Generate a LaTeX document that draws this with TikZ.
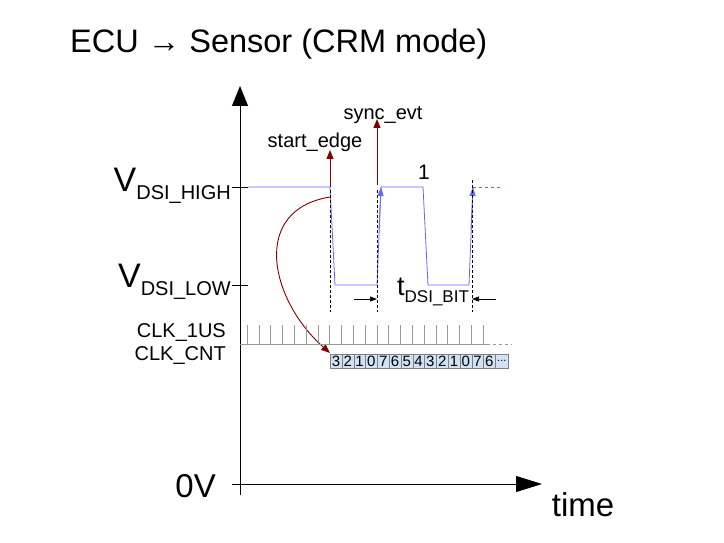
\documentclass[tikz,border=0pt]{standalone}
\usepackage{fontspec}
\setmainfont{Liberation Sans}
\usetikzlibrary{arrows.meta}
\definecolor{cellc}{HTML}{CFE3F5}
\begin{document}
\begin{tikzpicture}[x=1pt,y=-1pt,
  sig/.style={color=blue!60,line width=0.8pt},
  vdash/.style={densely dashed,line width=0.7pt},
  redarr/.style={color=red!50!black,line width=0.9pt,-{Triangle[length=9pt,width=7pt]}},
  lbl/.style={font=\fontsize{20}{20}\selectfont,inner sep=0pt},
  cell/.style={draw=black!50,fill=cellc,minimum width=11.8pt,minimum height=14pt,inner sep=0pt,font=\fontsize{15}{15}\selectfont}]
\useasboundingbox (0,0) rectangle (724,543);
\node[anchor=west,inner sep=0pt,font=\fontsize{32.5}{32}\selectfont] (title) at (70,44) {ECU → Sensor (CRM mode)};
% axes
\coordinate (o) at (240,484);
\coordinate (ytop) at (240,86);
\coordinate (xend) at (542,484);
\draw[line width=1pt,-{Triangle[length=20pt,width=16pt]}] (240,495) -- (ytop);
\draw[line width=1pt,-{Triangle[length=26pt,width=16pt]}] (232,484) -- (xend);
\draw[line width=0.8pt] (232,187) -- (248,187) (232,285) -- (248,285);
\node[lbl,font=\fontsize{33}{33}\selectfont,anchor=east] (zero) at (216,486) {0V};
\node[lbl,font=\fontsize{33}{33}\selectfont,anchor=north] (time) at (583,492) {time};
\node[anchor=east,inner sep=0pt] (vh) at (231,186) {\fontsize{34}{34}\selectfont V\raisebox{-8pt}{\fontsize{20}{20}\selectfont DSI\_HIGH}};
\node[anchor=east,inner sep=0pt] (vl) at (231,282) {\fontsize{34}{34}\selectfont V\raisebox{-8pt}{\fontsize{20}{20}\selectfont DSI\_LOW}};
\node[lbl,anchor=east] (c1) at (226,333) {CLK\_1US};
\node[lbl,anchor=east] (c2) at (226,356) {CLK\_CNT};
% signal
\draw[sig] (248,187) -- (330,187) -- (335,285) -- (377,285) -- (381,187) -- (423,187) -- (428,285) -- (469,285) -- (473,187);
\draw[sig,dashed] (473,187) -- (502,187);
\draw[color=blue!60,line width=0.8pt,-{Triangle[length=9pt,width=6pt]}] (379,230) -- (381,187);
\draw[color=blue!60,line width=0.8pt,-{Triangle[length=9pt,width=6pt]}] (471,230) -- (473,187);
\node[lbl,font=\fontsize{21}{21}\selectfont] (one) at (424,172) {1};
% dashed verticals
\draw[vdash] (330,190) -- (330,312);
\draw[vdash] (377,190) -- (377,312);
\draw[vdash] (472,180) -- (472,312);
\coordinate (a1) at (354,299); \coordinate (a2) at (377,299);
\coordinate (b1) at (496,299); \coordinate (b2) at (472,299);
\draw[line width=0.7pt,-{Triangle[length=7pt,width=5pt]}] (a1) -- (a2);
\draw[line width=0.7pt,-{Triangle[length=7pt,width=5pt]}] (b1) -- (b2);
\node[anchor=west,inner sep=0pt] (tb) at (397,292) {\fontsize{27}{27}\selectfont t\raisebox{-7pt}{\fontsize{17}{17}\selectfont DSI\_BIT}};
% red arrows
\coordinate (s0) at (330,187); \coordinate (s1) at (330,150);
\coordinate (e0) at (377,185); \coordinate (e1) at (377,119);
\draw[redarr] (s0) -- (s1);
\draw[redarr] (e0) -- (e1);
\node[lbl,anchor=south] (st) at (315,152) {start\_edge};
\node[lbl,anchor=south] (se) at (383,124) {sync\_evt};
\coordinate (cs) at (330,197);
\coordinate (ce) at (330,353);
\draw[redarr] (cs) .. controls (250,210) and (270,300) .. (ce);
% clock
\draw[black!40,line width=0.7pt] (240,344) -- (487,344);
\draw[black!40,line width=0.7pt,dashed] (487,344) -- (512,344);
\foreach \i in {0,...,20} \draw[black!40,line width=0.6pt] ({247+11.8*\i},325) -- ({247+11.8*\i},344);
\foreach \d [count=\i from 0] in {3,2,1,0,7,6,5,4,3,2,1,0,7,6} \node[cell] (k\i) at ({336+11.8*\i},361) {\d};
\node[cell,minimum width=13pt,font=\fontsize{11}{11}\selectfont] (kd) at ({336+11.8*14+0.6},361) {...};
\end{tikzpicture}
\end{document}
